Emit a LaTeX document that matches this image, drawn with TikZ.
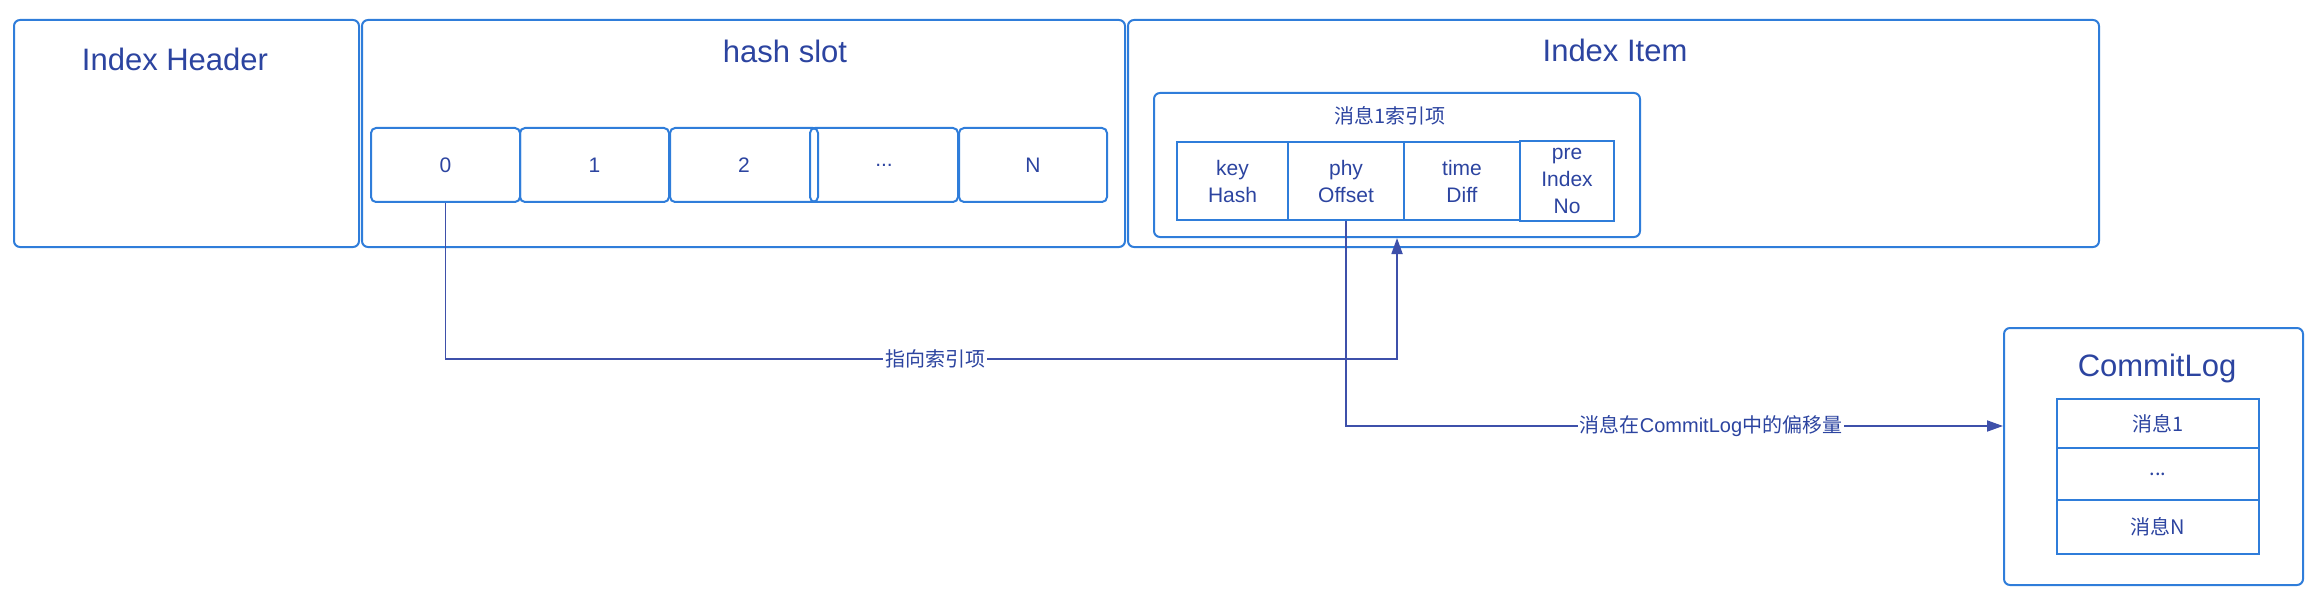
\documentclass[tikz,border=0pt]{standalone}
\usepackage{fontspec}
\setmainfont{Liberation Sans}
\newfontfamily\cjk{Noto Sans CJK SC}
\usetikzlibrary{arrows.meta}
\definecolor{boxblue}{RGB}{47,125,218}
\definecolor{textblue}{RGB}{44,68,160}
\definecolor{linkblue}{RGB}{62,80,170}
\tikzset{
  box/.style={draw=boxblue, line width=2pt, rounded corners=6pt, inner sep=0pt},
  slotbox/.style={draw=boxblue, line width=2pt, rounded corners=5pt, inner sep=0pt,
    minimum height=74pt, text=textblue, font=\fontsize{21}{27}\selectfont},
  cellbox/.style={draw=boxblue, line width=2pt, inner sep=0pt, align=center,
    text=textblue, font=\fontsize{21}{27}\selectfont},
  msgbox/.style={draw=boxblue, line width=2pt, inner sep=0pt, minimum width=202pt,
    text=textblue, font=\fontsize{20}{24}\selectfont\cjk},
  title/.style={anchor=base, text=textblue, font=\fontsize{31}{36}\selectfont},
  subtitle/.style={anchor=base, text=textblue, font=\fontsize{20}{24}\selectfont\cjk},
  link/.style={draw=linkblue, line width=1.8pt, -{Triangle[length=16pt,width=11pt]}},
  linklabel/.style={fill=white, inner sep=2pt, text=textblue, font=\fontsize{20}{24}\selectfont\cjk}
}
\begin{document}
\begin{tikzpicture}[x=1pt,y=-1pt]
\useasboundingbox (0,0) rectangle (2320,596);
% big boxes
\node[box, minimum width=345pt, minimum height=227pt] (header) at (186.5,133.5) {};
\node[box, minimum width=763pt, minimum height=227pt] (slots) at (743.5,133.5) {};
\node[box, minimum width=971pt, minimum height=227pt] (items) at (1613.5,133.5) {};
\node[title] (thead) at (175,71) {Index Header};
\node[title] (tslot) at (785,63) {hash slot};
\node[title] (titem) at (1615,62) {Index Item};
% slots
\node[slotbox, minimum width=149pt] (s0) at (445.5,165) {0};
\node[slotbox, minimum width=149pt] (s1) at (594.5,165) {1};
\node[slotbox, minimum width=148pt] (s2) at (744,165) {2};
\node[slotbox, minimum width=148pt] (sd) at (884,165) {...};
\node[slotbox, minimum width=148pt] (sN) at (1033,165) {N};
% index item
\node[box, minimum width=486pt, minimum height=144pt] (inner) at (1397,165) {};
\node[subtitle] (tinner) at (1390,124) {消息1索引项};
\node[cellbox, minimum width=111pt, minimum height=78pt] (kh) at (1232.5,181) {key\\Hash};
\node[cellbox, minimum width=116pt, minimum height=78pt] (po) at (1346,181) {phy\\Offset};
\node[cellbox, minimum width=116pt, minimum height=78pt] (td) at (1462,181) {time\\Diff};
\node[cellbox, minimum width=94pt, minimum height=80pt] (pi) at (1567,181) {pre\\Index\\No};
% commit log
\node[box, minimum width=299pt, minimum height=257pt] (commit) at (2153.5,456.5) {};
\node[title] (tcommit) at (2157,376.5) {CommitLog};
\node[msgbox, minimum height=49pt] (m1) at (2158,423.5) {消息1};
\node[msgbox, minimum height=52pt] (md) at (2158,474) {...};
\node[msgbox, minimum height=54pt] (mN) at (2158,527) {消息N};
% connectors
\coordinate (t1) at (1397,238);
\coordinate (t2) at (2003,426);
\draw[link] (s0.south) -- (s0.south |- 0,359) -| (t1);
\node[linklabel] (l1) at (935,359) {指向索引项};
\draw[link] (po.south) |- (t2);
\node[linklabel] (l2) at (1711,426) {消息在\fontspec{Liberation Sans}CommitLog\cjk 中的偏移量};
\end{tikzpicture}
\end{document}
